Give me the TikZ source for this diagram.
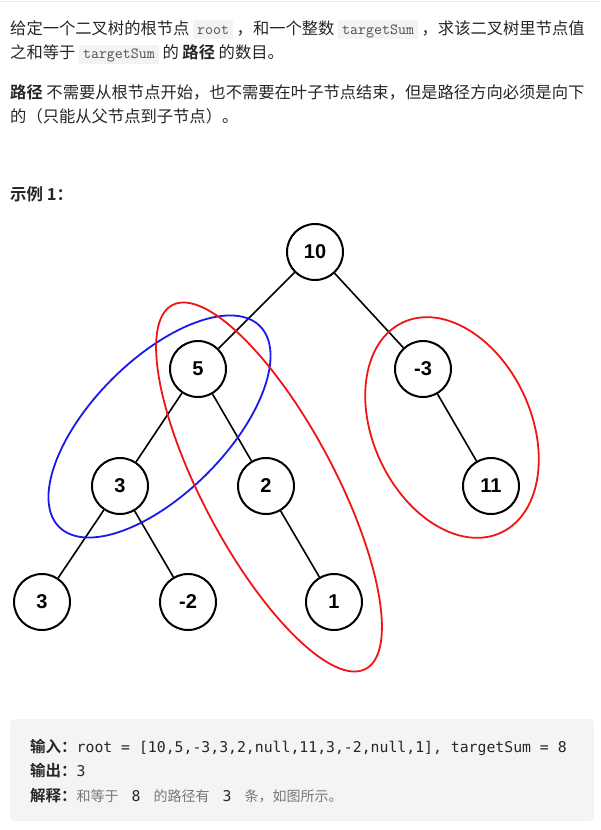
\documentclass[tikz,border=0pt]{standalone}
\usepackage{fontspec}
\setmainfont{Noto Sans CJK SC}[BoldFont={Noto Sans CJK SC Bold}]
\newfontfamily\labelfont{Liberation Sans}
\newfontfamily\boxmono{DejaVu Sans Mono}
\definecolor{ink}{RGB}{38,38,38}
\definecolor{codeink}{RGB}{80,80,80}
\definecolor{codebg}{RGB}{242,243,245}
\definecolor{boxbg}{RGB}{243,244,246}
\definecolor{softgray}{RGB}{120,120,120}
\definecolor{rulegray}{RGB}{235,235,238}
\definecolor{ringred}{RGB}{240,20,20}
\definecolor{ringblue}{RGB}{25,25,235}
\newcommand\code[1]{{\setlength{\fboxsep}{0pt}\colorbox{codebg}{\rule[-5pt]{0pt}{19pt}\hspace{4pt}\textcolor{codeink}{\ttfamily\fontsize{15.5}{15.5}\selectfont #1}\hspace{4pt}}}}
\newcommand\mono[1]{{\color{ink}\boxmono\fontsize{14.8}{14.8}\selectfont #1}}
\begin{document}
\begin{tikzpicture}[x=1pt,y=-1pt,
  textline/.style={anchor=base west,inner sep=0pt,text=ink,font=\fontsize{16.3}{16.3}\selectfont},
  boxline/.style={anchor=base west,inner sep=0pt,text=ink,font=\fontsize{15.5}{15.5}\selectfont},
  treenode/.style={circle,draw=black,line width=2pt,minimum size=56pt,inner sep=0pt,fill=white,font=\labelfont\bfseries\fontsize{20}{20}\selectfont},
  branch/.style={line width=1.6pt},
  ring/.style={line width=1.8pt}]
\useasboundingbox (0,0) rectangle (600,830);
\draw[rulegray,line width=1pt] (0,1) -- (600,1);

\node[textline] (desc1) at (10,34) {给定一个二叉树的根节点 \code{root} ，和一个整数 \code{targetSum} ，求该二叉树里节点值};
\node[textline] (desc2) at (10,58.5) {之和等于 \code{targetSum} 的 \textbf{路径} 的数目。};
\node[textline] (path1) at (10,98) {\textbf{路径} 不需要从根节点开始，也不需要在叶子节点结束，但是路径方向必须是向下};
\node[textline] (path2) at (10,122) {的（只能从父节点到子节点）。};
\node[textline,font=\fontsize{16.5}{16.5}\selectfont\bfseries] (example) at (10,200) {示例 1：};

\node[treenode] (n10) at (315,252) {10};
\node[treenode] (n5) at (198,369) {5};
\node[treenode] (nm3) at (423,369) {-3};
\node[treenode] (n3a) at (120,486) {3};
\node[treenode] (n2) at (266,486) {2};
\node[treenode] (n11) at (491,486) {11};
\node[treenode] (n3b) at (42,602) {3};
\node[treenode] (nm2) at (188,602) {-2};
\node[treenode] (n1) at (334,602) {1};

\draw[branch] (n10) -- (n5);
\draw[branch] (n10) -- (nm3);
\draw[branch] (n5) -- (n3a);
\draw[branch] (n5) -- (n2);
\draw[branch] (nm3) -- (n11);
\draw[branch] (n3a) -- (n3b);
\draw[branch] (n3a) -- (nm2);
\draw[branch] (n2) -- (n1);

\draw[ring,ringblue,shift={(159.5,426.5)},rotate=45] (0,0) ellipse [x radius=142pt,y radius=67pt];
\draw[ring,ringred,shift={(269,487)},rotate=118] (0,0) ellipse [x radius=206pt,y radius=66pt];
\draw[ring,ringred,shift={(452,427.5)},rotate=115] (0,0) ellipse [x radius=116pt,y radius=79pt];

\node[fill=boxbg,rounded corners=4pt,minimum width=584pt,minimum height=102pt,inner sep=0pt,anchor=north west] (outbox) at (10,719) {};
\node[boxline] (input) at (30,752.5) {\textbf{输入：}\mono{root = [10,5,-3,3,2,null,11,3,-2,null,1], targetSum = 8}};
\node[boxline] (output) at (30,776) {\textbf{输出：}\mono{3}};
\node[boxline] (explain) at (30,801) {\textbf{解释：}{\color{softgray}\fontsize{14}{14}\selectfont 和等于\hspace{13pt}\mono{8}\hspace{13pt}的路径有\hspace{13pt}\mono{3}\hspace{13pt}条，如图所示。}};
\end{tikzpicture}
\end{document}
